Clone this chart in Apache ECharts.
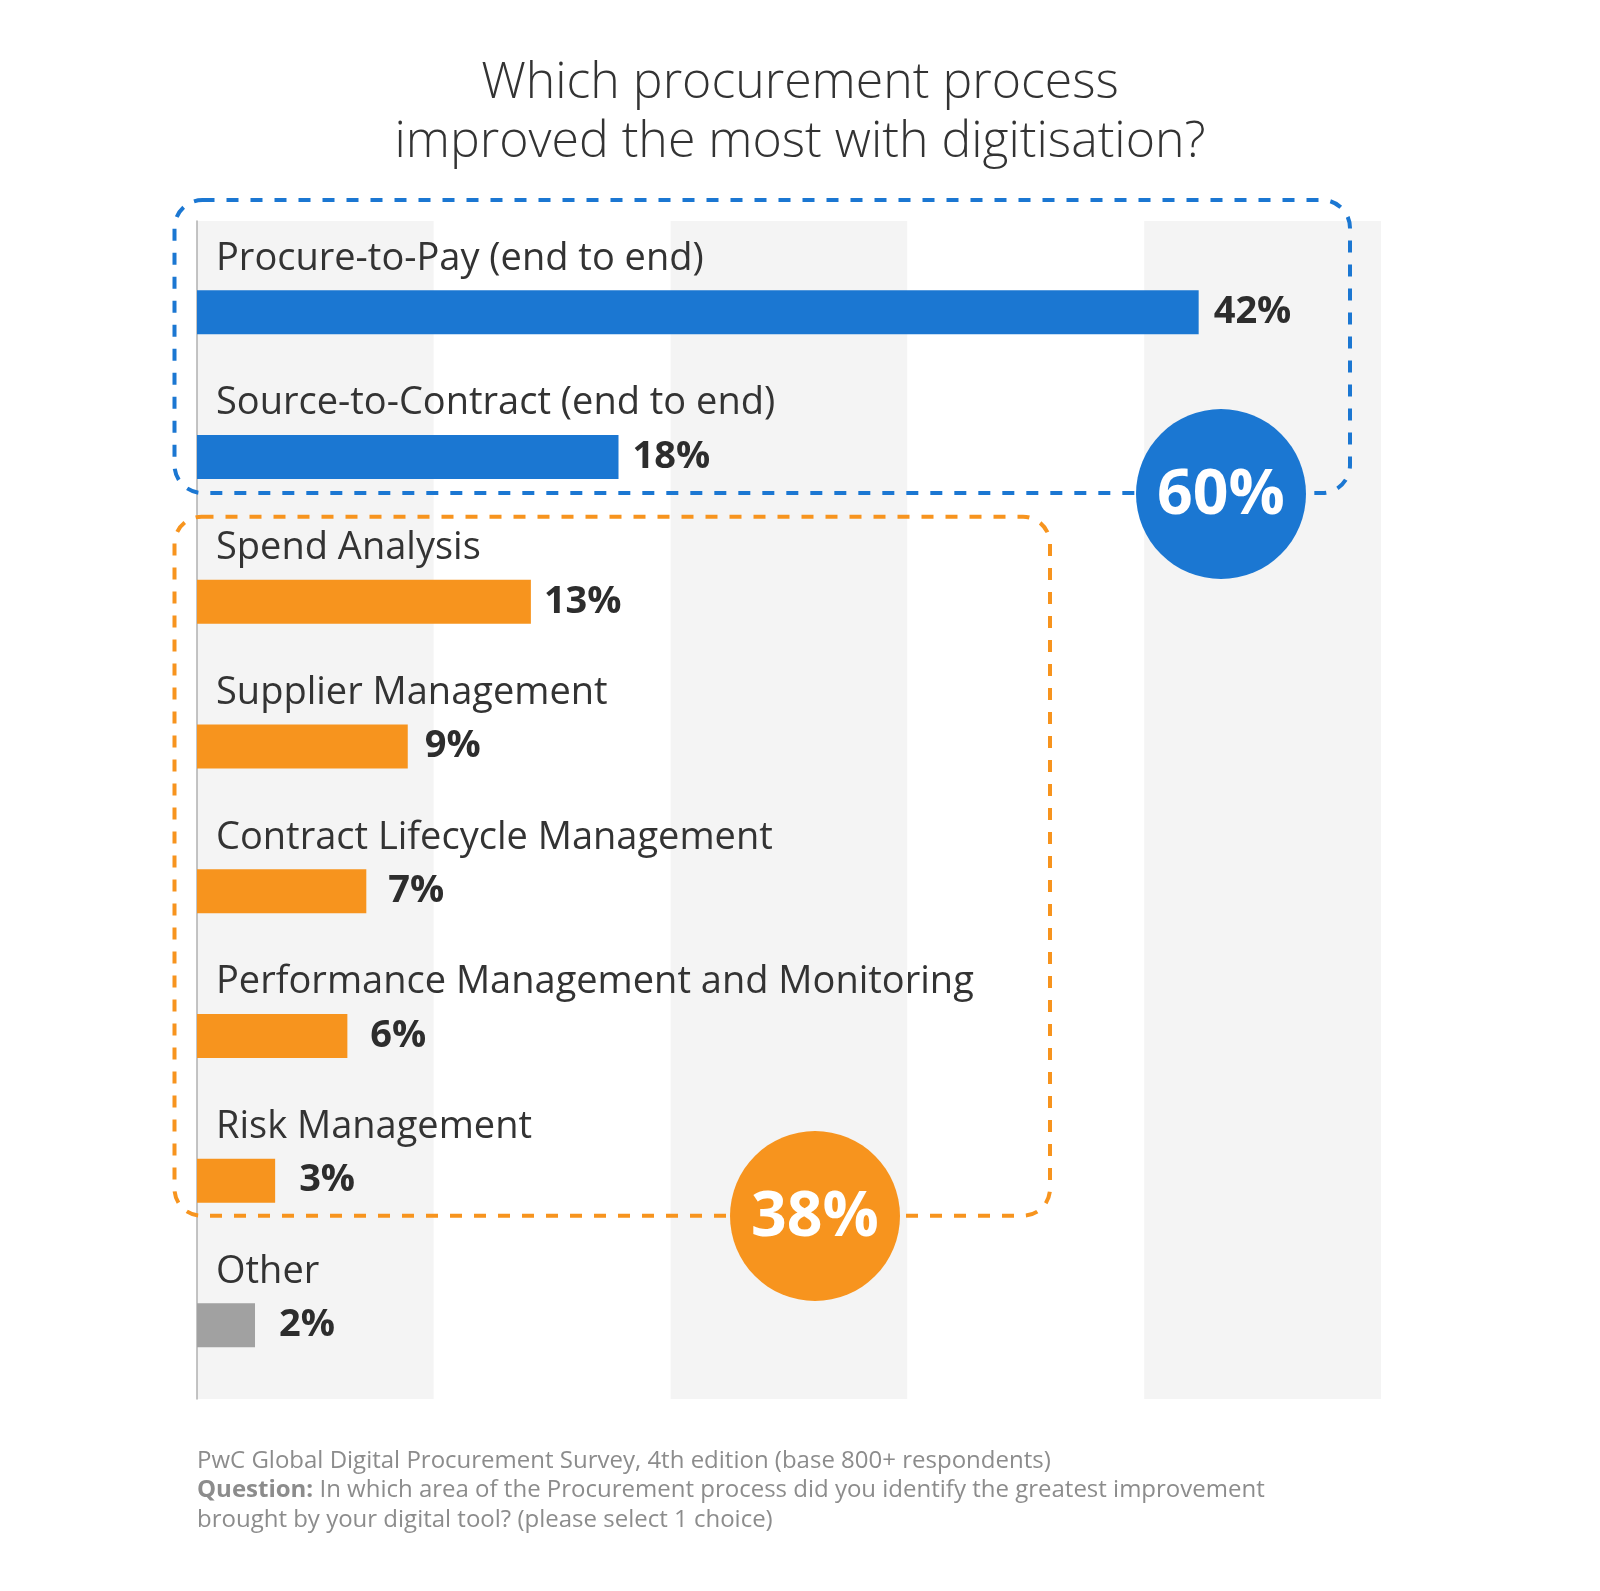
<!DOCTYPE html>
<html>
<head>
<meta charset="utf-8">
<script src="https://cdn.jsdelivr.net/npm/echarts@6/dist/echarts.min.js"></script>
<style>
html,body{margin:0;padding:0;background:#fff;}
#chart{width:1600px;height:1591px;}
</style>
</head>
<body>
<div id="chart"></div>
<script>
// ---- data ----
const categories = [
  'Procure-to-Pay (end to end)',
  'Source-to-Contract (end to end)',
  'Spend Analysis',
  'Supplier Management',
  'Contract Lifecycle Management',
  'Performance Management and Monitoring',
  'Risk Management',
  'Other'
];
// bar lengths (percent)
const barValues = [42.3, 17.8, 14.1, 8.9, 7.15, 6.35, 3.3, 2.45];
// printed value labels
const valueLabels = ['42%', '18%', '13%', '9%', '7%', '6%', '3%', '2%'];
// group of each category
const groups = ['e2e', 'e2e', 'point', 'point', 'point', 'point', 'point', 'other'];
// totals shown in the circles
const groupTotals = ['60%', '38%'];
const xTicks = [0, 10, 20, 30, 40, 50];

const titleText = 'Which procurement process\nimproved the most with digitisation?';
const sourceLine = 'PwC Global Digital Procurement Survey, 4th edition (base 800+ respondents)';
const questionLead = 'Question:';
const questionText = ' In which area of the Procurement process did you identify the greatest improvement';
const questionText2 = 'brought by your digital tool? (please select 1 choice)';

// ---- styles / layout ----
const FONT = "'Open Sans', 'Noto Sans', sans-serif";
const groupColors = { e2e: '#1b77d2', point: '#f7941e', other: '#a1a1a1' };
// gap between bar end and its value label (layout only)
const labelGaps = [15, 14, 13, 17, 22, 23, 24, 24];

const chart = echarts.init(document.getElementById('chart'), null, { renderer: 'canvas' });

const option = {
  backgroundColor: '#ffffff',
  animation: false,
  title: [
    {
      text: titleText,
      left: 800,
      top: 54,
      padding: 0,
      textAlign: 'center',
      textStyle: { fontFamily: FONT, fontSize: 50, fontWeight: 300, color: '#333333', lineHeight: 59 }
    },
    {
      text: '{n|' + sourceLine + '}\n{b|' + questionLead + '}{n|' + questionText + '}\n{n|' + questionText2 + '}',
      left: 197,
      top: 1446,
      padding: 0,
      textStyle: {
        fontFamily: FONT, fontSize: 24, fontWeight: 'normal', color: '#8c8c8c', lineHeight: 29.5,
        rich: {
          n: { fontFamily: FONT, fontSize: 24, fontWeight: 'normal', color: '#8c8c8c', lineHeight: 29.5 },
          b: { fontFamily: FONT, fontSize: 24, fontWeight: 'bold', color: '#8c8c8c', lineHeight: 29.5 }
        }
      }
    }
  ],
  grid: [
    { left: 197, top: 221, width: 1184, height: 1178 },
    { left: 197, top: 240, width: 1184, height: 1157.7 }
  ],
  xAxis: [
    {
      gridIndex: 0, type: 'value', min: xTicks[0], max: xTicks[xTicks.length - 1], interval: xTicks[1] - xTicks[0],
      axisLine: { show: false }, axisTick: { show: false }, axisLabel: { show: false },
      splitLine: { show: false },
      splitArea: { show: true, areaStyle: { color: ['#f4f4f4', '#ffffff'] } }
    },
    {
      gridIndex: 1, type: 'value', min: xTicks[0], max: xTicks[xTicks.length - 1], show: false
    }
  ],
  yAxis: [
    {
      gridIndex: 0, type: 'value', min: 0, max: 1,
      axisLine: { show: true, lineStyle: { color: '#b0b0b0', width: 1.5 } },
      axisTick: { show: false }, axisLabel: { show: false }, splitLine: { show: false }
    },
    {
      gridIndex: 1, type: 'category', inverse: true, data: categories, z: 5,
      axisLine: { show: false }, axisTick: { show: false }, splitLine: { show: false },
      axisLabel: {
        inside: true, margin: 19, interval: 0,
        fontFamily: FONT, fontSize: 38, color: '#333333',
        verticalAlign: 'bottom', lineHeight: 107
      }
    }
  ],
  series: [
    {
      type: 'bar',
      xAxisIndex: 1, yAxisIndex: 1,
      barWidth: 44,
      data: barValues.map((v, i) => ({
        value: v,
        itemStyle: { color: groupColors[groups[i]] },
        label: { distance: labelGaps[i] }
      })),
      label: {
        show: true, position: 'right', distance: 17,
        formatter: p => valueLabels[p.dataIndex],
        fontFamily: FONT, fontSize: 38, fontWeight: 'bold', color: '#2d2d2d'
      }
    }
  ],
  graphic: [
    {
      type: 'rect', z: 10,
      shape: { x: 174.5, y: 200, width: 1175.5, height: 293, r: 28 },
      style: { fill: 'none', stroke: groupColors.e2e, lineWidth: 4, lineDash: [12, 12] }
    },
    {
      type: 'rect', z: 10,
      shape: { x: 174.5, y: 516.7, width: 875.5, height: 699, r: 27 },
      style: { fill: 'none', stroke: groupColors.point, lineWidth: 4, lineDash: [12, 12] }
    },
    {
      type: 'circle', z: 11,
      shape: { cx: 1221, cy: 494, r: 85 },
      style: { fill: groupColors.e2e }
    },
    {
      type: 'text', z: 12,
      style: { text: groupTotals[0], x: 1221, y: 496, align: 'center', verticalAlign: 'middle',
        fontFamily: FONT, fontSize: 62.5, fontWeight: 'bold', fill: '#ffffff' }
    },
    {
      type: 'circle', z: 11,
      shape: { cx: 815, cy: 1216, r: 85 },
      style: { fill: groupColors.point }
    },
    {
      type: 'text', z: 12,
      style: { text: groupTotals[1], x: 815, y: 1218, align: 'center', verticalAlign: 'middle',
        fontFamily: FONT, fontSize: 62.5, fontWeight: 'bold', fill: '#ffffff' }
    }
  ]
};

chart.setOption(option);
</script>
</body>
</html>
